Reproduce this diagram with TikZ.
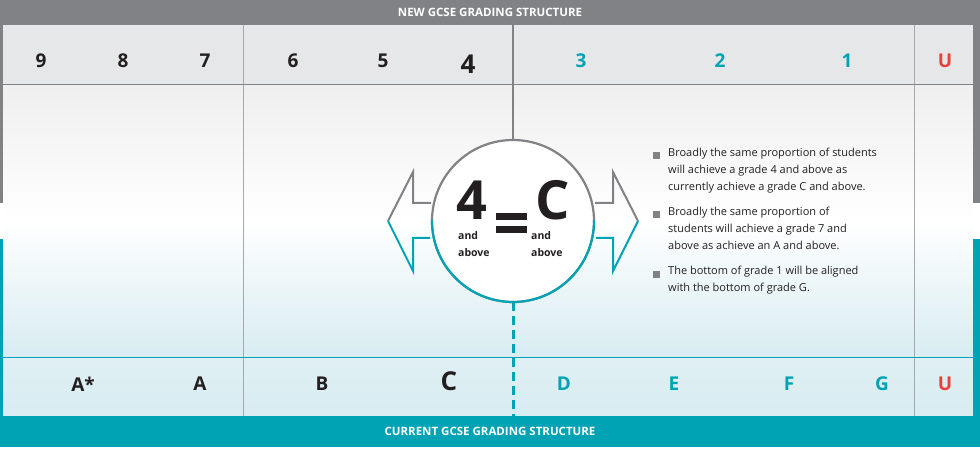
\documentclass[tikz,border=0pt]{standalone}
\usepackage{fontspec}
\setmainfont{Open Sans}
\usetikzlibrary{shapes.geometric}
\definecolor{teal1}{HTML}{00A3B4}
\definecolor{gray1}{HTML}{808285}
\definecolor{red1}{HTML}{E8413C}
\definecolor{ink}{HTML}{231F20}
\definecolor{toprow}{HTML}{E6E7E8}
\definecolor{lightg}{HTML}{EFEFF0}
\definecolor{lightb}{HTML}{D8ECF1}
\tikzset{
  grade/.style={font=\bfseries\fontsize{19}{22}\selectfont, text=ink},
  bignum/.style={font=\bfseries\fontsize{26}{30}\selectfont, text=ink},
  newc/.style={grade, text=teal1},
  ured/.style={grade, text=red1},
  bar/.style={font=\bfseries\fontsize{11.5}{13}\selectfont, text=white},
  bul/.style={anchor=north west, align=left, font=\fontsize{11}{17}\selectfont, text=ink, inner sep=0pt},
  sq/.style={fill=gray1, minimum size=7pt, inner sep=0pt},
  small/.style={font=\bfseries\fontsize{10.5}{17}\selectfont, align=left, text=ink, inner sep=0pt}
}
\begin{document}
\begin{tikzpicture}[x=1pt,y=-1pt]
\useasboundingbox (0,0) rectangle (980,449);
\fill[white] (0,0) rectangle (980,449);
\fill[top color=lightg, bottom color=white] (3,85) rectangle (973,220);
\fill[top color=white, bottom color=lightb] (3,220) rectangle (973,357);
\fill[toprow] (3,25) rectangle (973,85);
\fill[top color=lightb!80!white, bottom color=lightb] (3,357) rectangle (973,416);
\fill[gray1] (0,0) rectangle (980,25);
\fill[gray1] (0,25) rectangle (3,203);
\fill[gray1] (973,25) rectangle (980,203);
\fill[teal1] (0,239) rectangle (3,416);
\fill[teal1] (973,239) rectangle (980,416);
\fill[teal1] (0,416) rectangle (980,447);
\node[bar] (newt) at (490,12.5) {NEW GCSE GRADING STRUCTURE};
\node[bar] (curt) at (490,431.5) {CURRENT GCSE GRADING STRUCTURE};
\draw[gray1!70, line width=0.6pt] (243,25) -- (243,416);
\draw[gray1!70, line width=0.6pt] (914,25) -- (914,416);
\draw[gray1, line width=1pt] (3,85) -- (973,85);
\draw[teal1, line width=1pt] (3,357) -- (973,357);
\coordinate (cc) at (513,221);
\coordinate (ctop) at (513,140);
\coordinate (cbot) at (513,302);
\draw[gray1, line width=2.2pt] (513,25) -- (ctop);
\draw[teal1, line width=3pt, dash pattern=on 9pt off 5pt] (cbot) -- (513,416);
\fill[white] (cc) circle (81);
\draw[gray1, line width=2.2pt] (cc) circle (81);
\begin{scope}
\clip (420,221) rectangle (610,310);
\draw[teal1, line width=2.2pt] (cc) circle (81);
\end{scope}
\draw[gray1, line width=2pt, line join=miter] (431,203) -- (413,203) -- (413,172) -- (388,221);
\draw[teal1, line width=2pt, line join=miter] (388,221) -- (413,271) -- (413,238) -- (430,238);
\draw[gray1, line width=2pt, line join=miter] (595,203) -- (613,203) -- (613,172) -- (638,221);
\draw[teal1, line width=2pt, line join=miter] (638,221) -- (613,271) -- (613,238) -- (596,238);
\node[font=\bfseries\fontsize{54}{58}\selectfont, text=ink, inner sep=0pt] (four) at (472,200) {4};
\node[font=\bfseries\fontsize{54}{58}\selectfont, text=ink, inner sep=0pt] (cee) at (553,200) {C};
\fill[ink] (496,213) rectangle (527,220);
\fill[ink] (496,226) rectangle (527,233);
\node[small, anchor=north west] (and1) at (458,231) {and\\above};
\node[small, anchor=north west] (and2) at (531,231) {and\\above};
\node[grade] (g9) at (41,61) {9};
\node[grade] (g8) at (123,61) {8};
\node[grade] (g7) at (205,61) {7};
\node[grade] (g6) at (293,61) {6};
\node[grade] (g5) at (383,61) {5};
\node[bignum] (g4) at (468,64) {4};
\node[newc] (g3) at (581,61) {3};
\node[newc] (g2) at (720,61) {2};
\node[newc] (g1) at (847,61) {1};
\node[ured] (gu) at (945,61) {U};
\node[grade] (ga) at (83,384) {A*};
\node[grade] (gA) at (200,384) {A};
\node[grade] (gB) at (322,384) {B};
\node[bignum] (gC) at (449,381) {C};
\node[newc] (gD) at (564,384) {D};
\node[newc] (gE) at (674,384) {E};
\node[newc] (gF) at (789,384) {F};
\node[newc] (gG) at (882,384) {G};
\node[ured] (gU) at (945,384) {U};
\node[sq] (s1) at (656,156) {};
\node[bul] (t1) at (668,148) {Broadly the same proportion of students\\ will achieve a grade 4 and above as\\ currently achieve a grade C and above.};
\node[sq] (s2) at (656,215) {};
\node[bul] (t2) at (668,207) {Broadly the same proportion of\\ students will achieve a grade 7 and\\ above as achieve an A and above.};
\node[sq] (s3) at (656,274) {};
\node[bul] (t3) at (668,266) {The bottom of grade 1 will be aligned\\ with the bottom of grade G.};
\end{tikzpicture}
\end{document}
